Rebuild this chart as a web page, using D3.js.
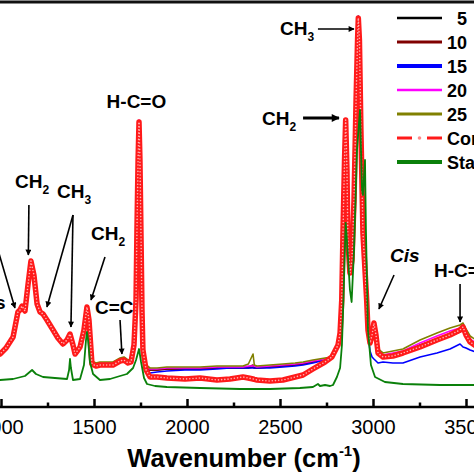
<!DOCTYPE html>
<html><head><meta charset="utf-8">
<script src="https://cdn.jsdelivr.net/npm/d3@7"></script>
<style>html,body{margin:0;padding:0;background:#fff;overflow:hidden}svg{display:block;font-family:"Liberation Sans",Arial,sans-serif}</style>
</head><body><svg id="c" width="474" height="474"></svg>
<script>
// ---------- DATA ----------
const wn = [
973, 995, 1027, 1065, 1091, 1102, 1113, 1129, 1145, 1161,
1177, 1194, 1210, 1226, 1247, 1280, 1306, 1333, 1355, 1371,
1387, 1398, 1414, 1425, 1446, 1462, 1473, 1489, 1511, 1532,
1602, 1640, 1661, 1683, 1699, 1715, 1726, 1731, 1737, 1742,
1747, 1753, 1758, 1763, 1780, 1801, 1839, 1892, 1989, 2070,
2161, 2231, 2301, 2330, 2355, 2362, 2376, 2446, 2516, 2581,
2624, 2677, 2742, 2779, 2812, 2823, 2832, 2839, 2847, 2853,
2860, 2865, 2876, 2887, 2898, 2909, 2917, 2921, 2927, 2935,
2946, 2957, 2966, 2973, 2984, 2995, 3005, 3016, 3027, 3054,
3107, 3161, 3253, 3344, 3414, 3468, 3484, 3500, 3522, 3554];

const coValues = [
12.75, 13.25, 14.75, 17.5, 23.75, 24.25, 25.25, 24, 30.5, 36.5,
33, 25.75, 23.75, 23.25, 21.75, 19.25, 17.25, 15.75, 16.75, 18.25,
15.5, 13.25, 14.25, 15, 19.25, 25, 21.75, 10.75, 10.25, 10.5,
10.5, 11.5, 11.75, 11, 11.25, 15.5, 26.75, 44.25, 61.75, 71.25,
61.75, 41.75, 24.25, 14.25, 9.25, 7.5, 7.5, 7.25, 7, 7.25,
6.75, 7, 7.5, 7.25, 7, 6.9, 6.75, 6.5, 6.75, 7.5,
8, 9.5, 11.25, 12.5, 15.5, 18.5, 26.75, 44.25, 61.75, 71.75,
59.25, 41.75, 33.5, 36.75, 51.75, 76.75, 91.75, 97.25, 91.75, 69.25,
43.5, 34.25, 26.75, 19.25, 16, 18, 21, 18, 13.5, 12.5,
12.75, 13.5, 15, 16.75, 18, 19.25, 20, 18, 16.25, 15.25];

const s25Values = [
12.75, 13.25, 14.75, 17.5, 23.75, 24.25, 25.25, 24, 30.5, 36.5,
33, 25.75, 23.75, 23.25, 21.75, 19.25, 17.25, 15.75, 16.75, 18.25,
15.5, 13.25, 14.25, 15, 19.25, 25, 21.75, 11.5, 11, 11.25,
11.25, 12.25, 12.5, 11.75, 12, 16, 27, 44.5, 62, 71.25,
62, 42, 25, 15, 10.5, 9.75, 9.75, 10, 10, 10,
10.25, 10.25, 10.25, 10.75, 13.25, 10.5, 10.25, 10.5, 10.75, 11,
11.25, 11.75, 12.25, 12.5, 16, 19, 27, 44.5, 62, 71.5,
59.5, 42, 34, 37, 52, 77, 92, 97.25, 92, 69.5,
44, 35, 27.5, 20, 17, 17.5, 20, 17, 14.5, 13.5,
14, 14.5, 16.75, 18.5, 19.75, 20.5, 21, 19.5, 17.75, 16.75];

const s20Values = [
12.75, 13.25, 14.75, 17.5, 23.75, 24.25, 25.25, 24, 30.5, 36.5,
33, 25.75, 23.75, 23.25, 21.75, 19.25, 17.25, 15.75, 16.75, 18.25,
15.5, 13.25, 14.25, 15, 19.25, 25, 21.75, 11.25, 10.75, 11,
11, 12, 12.25, 11.5, 11.75, 16, 27, 44.5, 62, 71.75,
62, 42, 25, 15, 10.25, 9.5, 9.5, 9.75, 9.75, 9.75,
10, 10, 10, 10.25, 10.25, 10.25, 10, 10.25, 10.5, 10.75,
11, 11.5, 12, 12.25, 15.75, 18.75, 27, 44.5, 62, 71.5,
59.5, 42, 34, 37, 52, 77, 92, 97.5, 92, 69.5,
44, 35, 27.25, 19.75, 16.5, 17, 19.5, 16.5, 14, 13,
13.5, 14, 16, 17.75, 19, 19.75, 20.25, 18.75, 17, 16];

const s5Values = [
12.75, 13.25, 14.75, 17.5, 23.75, 24.25, 25.25, 24, 30.5, 36.5,
33, 25.75, 23.75, 23.25, 21.75, 19.25, 17.25, 15.75, 16.75, 18.25,
15.5, 13.25, 14.25, 15, 19.25, 25, 21.75, 11, 10.5, 10.75,
10.75, 11.75, 12, 11.25, 11.5, 15.75, 27, 44.5, 62, 71,
62, 42, 24.5, 14.5, 10, 9.25, 9.25, 9.5, 9.5, 9.5,
9.75, 9.75, 9.75, 9.75, 10, 9.75, 9.75, 10, 10.25, 10.5,
10.75, 11.25, 11.75, 12.25, 15.5, 18.5, 27, 44.5, 62, 71.5,
59.5, 42, 34, 37, 52, 77, 92, 97.25, 92, 69.5,
44, 35, 27, 19.5, 16.25, 16.5, 19, 16, 13.5, 12.75,
13, 13.5, 15.5, 17, 18, 19, 19.5, 18, 16.5, 15.5];

const s10Values = [
12.75, 13.25, 14.75, 17.5, 23.75, 24.25, 25.25, 24, 30.5, 36.5,
33, 25.75, 23.75, 23.25, 21.75, 19.25, 17.25, 15.75, 16.75, 18.25,
15.5, 13.25, 14.25, 15, 19.25, 25, 21.75, 11, 10.5, 10.75,
10.75, 11.75, 12, 11.25, 11.5, 15.75, 27, 44.5, 62, 71,
62, 42, 24.5, 14.5, 10, 9.25, 9.25, 9.5, 9.5, 9.5,
9.75, 9.75, 9.75, 10, 10.5, 9.75, 9.75, 10, 10.25, 10.5,
10.75, 11.25, 11.75, 12.25, 15.5, 18.5, 27, 44.5, 62, 71.5,
59.5, 42, 34, 37, 52, 77, 92, 97.25, 92, 69.5,
44, 35, 27, 19.5, 16, 16.25, 18.75, 15.75, 13.25, 12.5,
12.75, 13.25, 15.25, 16.75, 17.75, 18.75, 19.25, 17.75, 16.25, 15.25];

const s15Values = [
12.75, 13.25, 14.75, 17.5, 23.75, 24.25, 25.25, 24, 30.5, 36.5,
33, 25.75, 23.75, 23.25, 21.75, 19.25, 17.25, 15.75, 16.75, 18.25,
15.5, 13.25, 14.25, 15, 19.25, 25, 21.75, 11, 10.5, 10.75,
10.75, 11.75, 12, 11.25, 11.5, 15.75, 27, 44.5, 62, 71,
62, 42, 24.5, 14.5, 9.5, 8.5, 8.75, 9, 9.25, 9.25,
9.5, 9.75, 9.75, 9.75, 9.75, 9.75, 9.75, 9.75, 10, 10.25,
10.5, 11, 11.75, 12.5, 15.5, 18.5, 27, 44.5, 62, 71.5,
59.5, 42, 34, 37, 52, 77, 92, 97.75, 92, 69.5,
44, 35, 26.5, 18.5, 14, 12.5, 12, 11.5, 11, 11.25,
11, 11, 12.5, 13.5, 14.5, 15.75, 15, 14.75, 14.25, 13.75];

const staWn = [
973, 995, 1065, 1129, 1167, 1188, 1226, 1290, 1355, 1366,
1371, 1376, 1387, 1425, 1446, 1457, 1462, 1468, 1478, 1495,
1532, 1586, 1640, 1677, 1710, 1726, 1742, 1753, 1769, 1785,
1828, 1892, 2070, 2285, 2446, 2607, 2677, 2704, 2715, 2742,
2769, 2785, 2806, 2823, 2833, 2841, 2853, 2860, 2876, 2885,
2898, 2914, 2930, 2941, 2946, 2957, 2962, 2973, 2989, 3011,
3064, 3161, 3360, 3554];
const staValues = [
6.5, 6.75, 7, 7.75, 9.25, 8.25, 7.5, 7.25, 7, 9.25,
12, 9.75, 6.75, 7, 10.5, 16.75, 18.75, 16.75, 11.25, 8.25,
6.75, 7, 7.75, 8.25, 9.75, 11.75, 14.5, 11.25, 7.25, 5.75,
5.25, 5, 4.75, 4.5, 4.5, 4.75, 5, 5.75, 5.25, 5.5,
5.25, 5.5, 7.5, 9.75, 15.5, 26.75, 46, 41.75, 29.25, 26.25,
39.25, 64.25, 74.25, 54.25, 53, 61.75, 44.25, 19.25, 10.5, 7.5,
6.25, 5.75, 5.5, 5.5];

const majorTicks = [1000, 1500, 2000, 2500, 3000, 3500];
const minorTicks = [750, 1250, 1750, 2250, 2750, 3250, 3750];
const legendLabels = ["5", "10", "15", "20", "25", "Control", "Standard"];

// ---------- DRAW ----------
const svg = d3.select("#c");
const x = d3.scaleLinear().domain([1000, 3500]).range([1, 466]);
const y = d3.scaleLinear().domain([0, 101]).range([407, 3]);

const colors = {"5":"#000000","10":"#800000","15":"#0000ff","20":"#ff00ff","25":"#808000","Control":"#ff1a1a","Standard":"#0a800a"};

const line = d3.line().x(d => x(d[0])).y(d => y(d[1]));
const zip = (a, b) => a.map((v, i) => [v, b[i]]);

const plot = svg.append("g");
[["5", s5Values], ["10", s10Values], ["15", s15Values], ["20", s20Values], ["25", s25Values]].forEach(([k, v]) => {
  plot.append("path").attr("d", line(zip(wn, v))).attr("fill", "none")
    .attr("stroke", colors[k]).attr("stroke-width", 1.6).attr("stroke-linejoin", "round");
});

// Co: thick red with circle markers
const coPath = plot.append("path").attr("d", line(zip(wn, coValues))).attr("fill", "none")
  .attr("stroke", colors.Control).attr("stroke-width", 5.5).attr("stroke-linejoin", "round");
const node = coPath.node();
const L = node.getTotalLength();
const dots = [];
for (let s = 0; s <= L; s += 3.2) dots.push(node.getPointAtLength(s));
plot.append("g").selectAll("circle").data(dots).join("circle")
  .attr("cx", d => d.x).attr("cy", d => d.y).attr("r", 0.8).attr("fill", "#ffb4b4");

plot.append("path").attr("d", line(zip(staWn, staValues))).attr("fill", "none")
  .attr("stroke", colors.Standard).attr("stroke-width", 1.8).attr("stroke-linejoin", "round");

// frame top
svg.append("line").attr("x1", 0).attr("x2", 474).attr("y1", 2).attr("y2", 2)
  .attr("stroke", "#111").attr("stroke-width", 3);

// axes
const axisG = svg.append("g").attr("transform", `translate(0,${y(0)})`);
axisG.call(d3.axisBottom(x).tickValues(majorTicks).tickFormat(d3.format("d")).tickSize(-8).tickPadding(13))
  .call(g => g.select(".domain").attr("stroke-width", 2.5).attr("d", "M-10,0H490"))
  .call(g => g.selectAll(".tick line").attr("stroke-width", 2.5))
  .call(g => g.selectAll("text").attr("font-size", 20).attr("fill", "#000").attr("font-family", '"Liberation Sans",Arial,sans-serif'));
svg.append("g").attr("transform", `translate(0,${y(0)})`)
  .call(d3.axisBottom(x).tickValues(minorTicks).tickFormat("").tickSize(-4.5))
  .call(g => g.select(".domain").remove())
  .call(g => g.selectAll(".tick line").attr("stroke-width", 2.5));

// axis title
const t = svg.append("text").attr("x", 244).attr("y", 467).attr("text-anchor", "middle")
  .attr("font-size", 25.5).attr("font-weight", "bold");
t.append("tspan").text("Wavenumber (cm");
t.append("tspan").attr("font-size", 15).attr("dy", -11).text("-1");
t.append("tspan").attr("dy", 11).text(")");

// annotations (data units)
const defs = svg.append("defs");
function mk(id, w, h) {
  defs.append("marker").attr("id", id).attr("viewBox", "0 0 10 10").attr("refX", 9).attr("refY", 5)
    .attr("markerWidth", w).attr("markerHeight", h).attr("markerUnits", "userSpaceOnUse").attr("orient", "auto")
    .append("path").attr("d", "M0,0L10,5L0,10z").attr("fill", "#000");
}
mk("ah", 8, 6); mk("ahb", 9, 8);

const labels = [
  {t:"H-C=O", w:1728, v:74.75, anchor:"middle"},
  {t:"CH", sub:"3", w:2500, v:93},
  {t:"CH", sub:"2", w:2403, v:70.5},
  {t:"CH", sub:"2", w:1075, v:54.75},
  {t:"CH", sub:"3", w:1301, v:52.25},
  {t:"CH", sub:"2", w:1484, v:41.75},
  {t:"C=C", w:1505, v:23.25},
  {t:"Trans", w:1024, v:24.5, anchor:"end"},
  {t:"Cis", w:3091, v:36.25, italic:true},
  {t:"H-C=O", w:3328, v:32.5}
];
labels.forEach(a => {
  const tx = svg.append("text").attr("x", x(a.w)).attr("y", y(a.v)).attr("font-size", 19)
    .attr("font-weight", "bold").attr("text-anchor", a.anchor || "start")
    .attr("font-style", a.italic ? "italic" : "normal").text(a.t);
  if (a.sub) tx.append("tspan").attr("font-size", 12).attr("dy", 6).text(a.sub);
});

const arrows = [
  {w1:2704, v1:94.5, w2:2898, v2:94.5},
  {w1:2624, v1:72.25, w2:2817, v2:72.25, bold:true},
  {w1:1150, v1:50.5, w2:1147, v2:38},
  {w1:1387, v1:48, w2:1247, v2:25},
  {w1:1387, v1:48, w2:1376, v2:20},
  {w1:1559, v1:37.5, w2:1484, v2:26.75},
  {w1:1640, v1:21.75, w2:1650, v2:13.25},
  {w1:984, v1:39.25, w2:1075, v2:24.75},
  {w1:3113, v1:33, w2:3032, v2:24.5},
  {w1:3468, v1:30.75, w2:3468, v2:21.25}
];
arrows.forEach(a => {
  svg.append("line").attr("x1", x(a.w1)).attr("y1", y(a.v1)).attr("x2", x(a.w2)).attr("y2", y(a.v2))
    .attr("stroke", "#000").attr("stroke-width", a.bold ? 3.2 : 1.6)
    .attr("marker-end", a.bold ? "url(#ahb)" : "url(#ah)");
});

// legend
const lg = svg.append("g");
legendLabels.forEach((k, i) => {
  const yy = 18 + i * 24;
  const g = lg.append("g").attr("transform", `translate(0,${yy})`);
  const widths = {"5":2.5,"10":3,"15":4,"20":2.5,"25":3,"Standard":4};
  if (k === "Control") {
    g.append("line").attr("x1", 397).attr("x2", 412).attr("stroke", colors[k]).attr("stroke-width", 3);
    g.append("line").attr("x1", 427).attr("x2", 442).attr("stroke", colors[k]).attr("stroke-width", 3);
    g.append("circle").attr("cx", 419.5).attr("r", 1.8).attr("fill", "#ff8a8a");
  } else {
    g.append("line").attr("x1", 397).attr("x2", 442).attr("stroke", colors[k]).attr("stroke-width", widths[k]);
  }
  g.append("text").attr("x", k === "5" ? 467 : 447).attr("y", 7).attr("font-size", 18).attr("font-weight", "bold")
    .attr("text-anchor", k === "5" ? "end" : "start").text(k);
});
</script></body></html>
